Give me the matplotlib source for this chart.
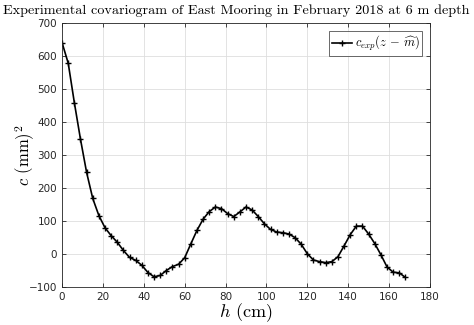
import matplotlib
matplotlib.use("Agg")
import matplotlib.pyplot as plt
import numpy as np

# Lag distances (cm) and experimental covariogram values (mm^2)
lag_cm = [0, 3, 6, 9, 12, 15, 18, 21, 24, 27, 30, 33, 36, 39, 42, 45, 48, 51, 54, 57,
          60, 63, 66, 69, 72, 75, 78, 81, 84, 87, 90, 93, 96, 99, 102, 105, 108, 111,
          114, 117, 120, 123, 126, 129, 132, 135, 138, 141, 144, 147, 150, 153, 156,
          159, 162, 165, 168]
cov_exp = [641, 579, 459, 348, 247, 168, 116, 79, 55, 35, 10, -11, -20, -35, -57, -70,
           -66, -51, -39, -32, -12, 30, 71, 105, 128, 142, 137, 122, 113, 127, 142, 133,
           113, 91, 74, 66, 64, 60, 49, 29, 0, -19, -24, -27, -24, -9, 24, 58, 84, 84,
           60, 31, -3, -40, -56, -58, -72]

x_ticks = [0, 20, 40, 60, 80, 100, 120, 140, 160, 180]
y_ticks = [-100, 0, 100, 200, 300, 400, 500, 600, 700]

plt.rcParams['mathtext.fontset'] = 'cm'

fig = plt.figure(figsize=(4.74, 3.25), dpi=100)
ax = fig.add_axes([0.131, 0.118, 0.776, 0.810])

ax.plot(lag_cm, cov_exp, color='black', linewidth=1.2, marker='+',
        markersize=5, markeredgewidth=1.0, label=r'$c_{exp}(z\,-\,\widehat{m})$')

ax.set_xlim(0, 180)
ax.set_ylim(-100, 700)
ax.set_xticks(x_ticks)
ax.set_yticks(y_ticks)
ax.tick_params(direction='in', top=True, right=True, labelsize=7.5,
               length=3, width=0.6, colors='#262626')
for lab in ax.get_xticklabels() + ax.get_yticklabels():
    lab.set_family('DejaVu Sans')
for sp in ax.spines.values():
    sp.set_linewidth(0.6)
    sp.set_color('#262626')

ax.grid(True, color='#dedede', linewidth=0.6)
ax.set_axisbelow(True)

ax.set_xlabel(r'$h$ (cm)', fontsize=13, family='cmr10', labelpad=0)
ax.set_ylabel(r'$c$ (mm)$^2$', fontsize=12, family='cmr10', labelpad=-6)
fig.text(0.499, 0.958,
         'Experimental covariogram of East Mooring in February 2018 at 6 m depth',
         fontsize=10.2, family='cmr10', ha='center', va='baseline')

leg = ax.legend(loc='upper right', fontsize=9, frameon=True, fancybox=False,
                handlelength=1.6, borderpad=0.25, handletextpad=0.2,
                borderaxespad=0.6)
leg.get_frame().set_edgecolor('#262626')
leg.get_frame().set_linewidth(0.6)

fig.savefig('out.png', dpi=100)
